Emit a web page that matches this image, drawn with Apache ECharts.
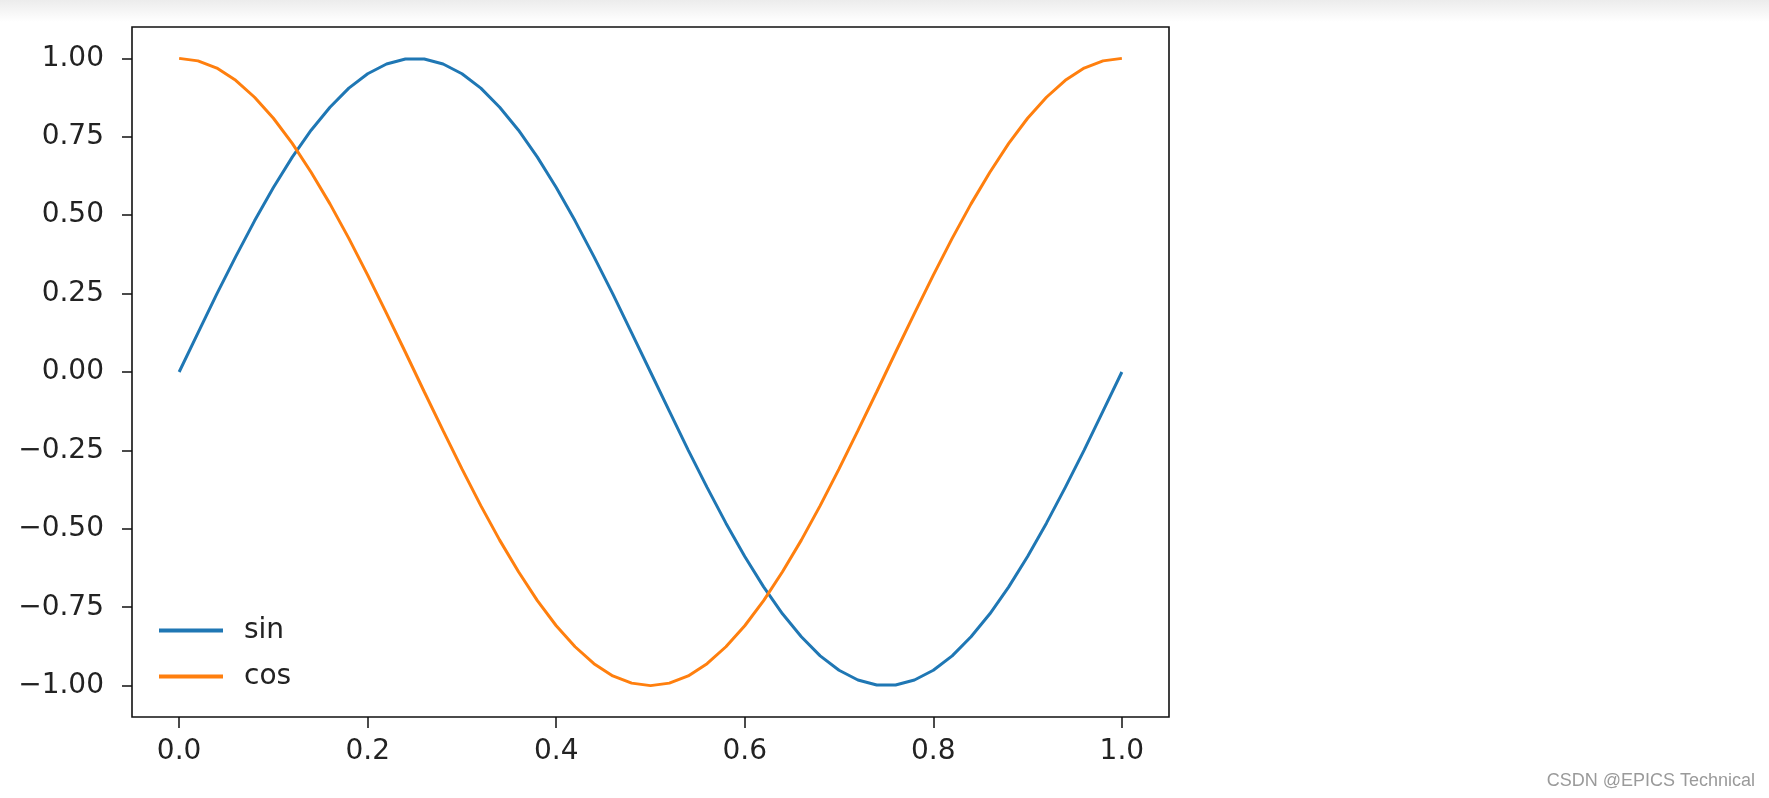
<!DOCTYPE html>
<html>
<head>
<meta charset="utf-8">
<script src="https://cdn.jsdelivr.net/npm/echarts@6/dist/echarts.min.js"></script>
<style>
  html, body { margin: 0; padding: 0; background: #fff; }
  #app { width: 1769px; height: 798px; }
</style>
</head>
<body>
<div id="app"></div>
<script>
// x samples and the two curves
const xs = [0, 0.02, 0.04, 0.06, 0.08, 0.1, 0.12, 0.14, 0.16, 0.18, 0.2, 0.22, 0.24, 0.26, 0.28, 0.3, 0.32, 0.34, 0.36, 0.38, 0.4,
  0.42, 0.44, 0.46, 0.48, 0.5, 0.52, 0.54, 0.56, 0.58, 0.6, 0.62, 0.64, 0.66, 0.68, 0.7, 0.72, 0.74, 0.76, 0.78, 0.8,
  0.82, 0.84, 0.86, 0.88, 0.9, 0.92, 0.94, 0.96, 0.98, 1.0];
const sinVals = [0, 0.125, 0.249, 0.368, 0.482, 0.588, 0.685, 0.771, 0.844, 0.905, 0.951, 0.982, 0.998, 0.998, 0.982, 0.951,
  0.905, 0.844, 0.771, 0.685, 0.588, 0.482, 0.368, 0.249, 0.125, 0, -0.125, -0.249, -0.368, -0.482, -0.588, -0.685,
  -0.771, -0.844, -0.905, -0.951, -0.982, -0.998, -0.998, -0.982, -0.951, -0.905, -0.844, -0.771, -0.685, -0.588,
  -0.482, -0.368, -0.249, -0.125, 0];
const cosVals = [1, 0.992, 0.969, 0.930, 0.876, 0.809, 0.729, 0.637, 0.536, 0.426, 0.309, 0.187, 0.063, -0.063, -0.187,
  -0.309, -0.426, -0.536, -0.637, -0.729, -0.809, -0.876, -0.930, -0.969, -0.992, -1, -0.992, -0.969, -0.930, -0.876,
  -0.809, -0.729, -0.637, -0.536, -0.426, -0.309, -0.187, -0.063, 0.063, 0.187, 0.309, 0.426, 0.536, 0.637, 0.729,
  0.809, 0.876, 0.930, 0.969, 0.992, 1];
const xTicks = [0, 0.2, 0.4, 0.6, 0.8, 1.0];
const yTicks = [-1, -0.75, -0.5, -0.25, 0, 0.25, 0.5, 0.75, 1];
const seriesNames = ['sin', 'cos'];

const font = 'DejaVu Sans';
// matplotlib style: two decimals, real minus sign
const fmtY = v => {
  let n = Number(v);
  return (n < 0 ? '\u2212' : '') + Math.abs(n).toFixed(2);
};

let chart = echarts.init(document.getElementById('app'), null, { renderer: 'canvas' });
chart.setOption({
  backgroundColor: '#fff',
  animation: false,
  grid: {
    left: 132, right: 600, top: 27, bottom: 81,
    show: true, borderColor: '#111', borderWidth: 1.6, backgroundColor: 'transparent'
  },
  graphic: [{
    type: 'rect', left: 0, top: 0,
    shape: { width: 1769, height: 22 },
    style: { fill: new echarts.graphic.LinearGradient(0, 0, 0, 1, [
      { offset: 0, color: '#ececec' }, { offset: 1, color: '#ffffff' }]) },
    silent: true
  }, {
    type: 'text', right: 14, bottom: 8,
    style: { text: 'CSDN @EPICS Technical', fill: '#9a9a9a', font: '18px "Liberation Sans Narrow", "Liberation Sans", sans-serif' }
  }],
  legend: {
    orient: 'vertical', left: 154, top: 610,
    icon: 'rect', itemWidth: 64, itemHeight: 4, itemGap: 15,
    textStyle: { fontFamily: font, fontSize: 28, color: '#222', lineHeight: 31, padding: [0, 0, 0, 16] },
    data: seriesNames
  },
  xAxis: {
    type: 'value', min: -0.05, max: 1.05,
    axisLine: { show: false, onZero: false },
    splitLine: { show: false },
    axisTick: { show: true, customValues: xTicks, length: 11, lineStyle: { color: '#111', width: 1.5 } },
    axisLabel: { customValues: xTicks, margin: 21, fontFamily: font, fontSize: 28, color: '#222',
      formatter: v => Number(v).toFixed(1) }
  },
  yAxis: {
    type: 'value', min: -1.1, max: 1.1,
    axisLine: { show: false, onZero: false },
    splitLine: { show: false },
    axisTick: { show: true, customValues: yTicks, length: 10, lineStyle: { color: '#111', width: 1.5 } },
    axisLabel: { customValues: yTicks, margin: 28, fontFamily: font, fontSize: 28, color: '#222',
      formatter: fmtY }
  },
  series: [{
    name: seriesNames[0], type: 'line', showSymbol: false,
    data: xs.map((x, i) => [x, sinVals[i]]),
    itemStyle: { color: '#1f77b4' }, lineStyle: { color: '#1f77b4', width: 3 }
  }, {
    name: seriesNames[1], type: 'line', showSymbol: false,
    data: xs.map((x, i) => [x, cosVals[i]]),
    itemStyle: { color: '#ff7f0e' }, lineStyle: { color: '#ff7f0e', width: 3 }
  }]
});
</script>
</body>
</html>
